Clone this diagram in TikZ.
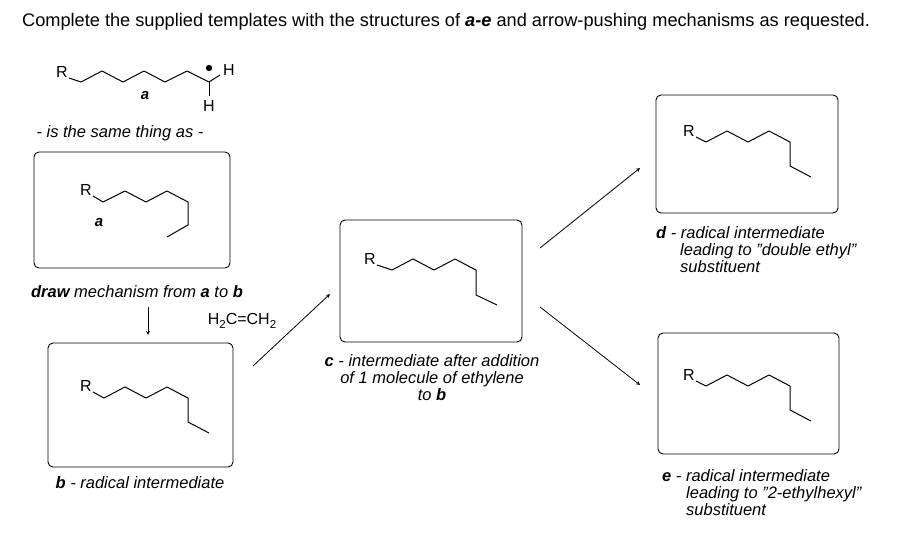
\documentclass[tikz,border=0pt]{standalone}
\usepackage{fontspec}
\setmainfont{Liberation Sans}[Ligatures=ResetAll]
\usetikzlibrary{positioning,arrows}
\tikzset{
  box/.style={draw, rounded corners=5pt, line width=0.9pt},
  bond/.style={line width=1pt, line join=round},
  atom/.style={font=\fontsize{16}{19}\selectfont, inner sep=0pt},
  lbl/.style={font=\fontsize{16.5}{17}\selectfont\itshape, align=left, inner sep=0pt},
  rxn/.style={->, >=stealth, line width=0.8pt}
}
\newcommand{\dq}{\symbol{34}}
\newcommand{\sub}[1]{\raisebox{-3.5pt}{\fontsize{11.5}{12}\selectfont #1}}
\begin{document}
\begin{tikzpicture}[x=1pt,y=-1pt]
  \useasboundingbox (0,0) rectangle (920,559);
  \node[font=\fontsize{18.2}{21}\selectfont] (title) at (446,22) {Complete the supplied templates with the structures of \textbf{\itshape a-e} and arrow-pushing mechanisms as requested.};

  % a, drawn out
  \node[atom] (Ra) at (62,72) {R};
  \draw[bond] (69,78) -- (81,82) -- (102,71) -- (123,82) -- (144,71) -- (165,82) -- (187,71) -- (209,82) -- (220,75);
  \draw[bond] (209,82) -- (209,96);
  \fill (209,68) circle (3.2);
  \node[atom] (Ha) at (229,70) {H};
  \node[atom] (Hb) at (209,106) {H};
  \node[font=\fontsize{15}{15}\selectfont\bfseries\itshape] (la) at (145,96) {a};
  \node[lbl] (same) at (120,133) {- is the same thing as -};

  % box a
  \draw[box] (34,152) rectangle (230,268);
  \node[atom] (R1) at (86,190) {R};
  \draw[bond] (93,196) -- (103,202) -- (125,191) -- (146,202) -- (167,191) -- (188,202) -- (188,225) -- (167,237);
  \node[font=\fontsize{15}{15}\selectfont\bfseries\itshape] (lb) at (99,223) {a};
  \node[lbl] (mech) at (137,292) {\textbf{draw} mechanism from \textbf{a} to \textbf{b}};

  % box b
  \draw[box] (48,343) rectangle (233,467);
  \node[atom] (R2) at (86,386) {R};
  \draw[bond] (93,392) -- (104,398) -- (125,387) -- (146,398) -- (167,387) -- (188,398) -- (188,422) -- (209,433);
  \node[lbl] (lblb) at (140,483) {\textbf{b} - radical intermediate};

  % box c
  \draw[box] (340,220) rectangle (522,342);
  \node[atom] (R3) at (370,259) {R};
  \draw[bond] (377,265) -- (392,270) -- (413,259) -- (434,270) -- (455,259) -- (476,270) -- (476,295) -- (497,305);
  \node[lbl, align=center] (lblc) at (432,378) {\textbf{c} - intermediate after addition\\of 1 molecule of ethylene\\to \textbf{b}};

  % box d
  \draw[box] (656,95) rectangle (838,213);
  \node[atom] (R4) at (689,131) {R};
  \draw[bond] (696,137) -- (706,142) -- (727,131) -- (748,142) -- (769,131) -- (790,142) -- (790,166) -- (811,177);
  \node[lbl, anchor=north west] (lbld) at (656,226) {\textbf{d} - radical intermediate\\\hspace*{24pt}leading to \dq double ethyl\dq\\\hspace*{24pt}substituent};

  % box e
  \draw[box] (658,333) rectangle (839,454);
  \node[atom] (R5) at (689,375) {R};
  \draw[bond] (696,381) -- (706,386) -- (727,375) -- (748,386) -- (769,375) -- (790,386) -- (790,410) -- (811,421);
  \node[lbl, anchor=north west] (lble) at (662,469) {\textbf{e} - radical intermediate\\\hspace*{24pt}leading to \dq 2-ethylhexyl\dq\\\hspace*{24pt}substituent};

  % arrows
  \coordinate (d1) at (148,307); \coordinate (d2) at (148,335);
  \coordinate (bc1) at (253,366); \coordinate (bc2) at (330,294);
  \coordinate (cd1) at (540,248); \coordinate (cd2) at (640,168);
  \coordinate (ce1) at (540,307); \coordinate (ce2) at (640,385);
  \draw[rxn] (d1) -- (d2);
  \draw[rxn] (bc1) -- (bc2);
  \draw[rxn] (cd1) -- (cd2);
  \draw[rxn] (ce1) -- (ce2);
  \node[font=\fontsize{16}{19}\selectfont] (eth) at (242,321) {H\sub{2}C=CH\sub{2}};
\end{tikzpicture}
\end{document}
